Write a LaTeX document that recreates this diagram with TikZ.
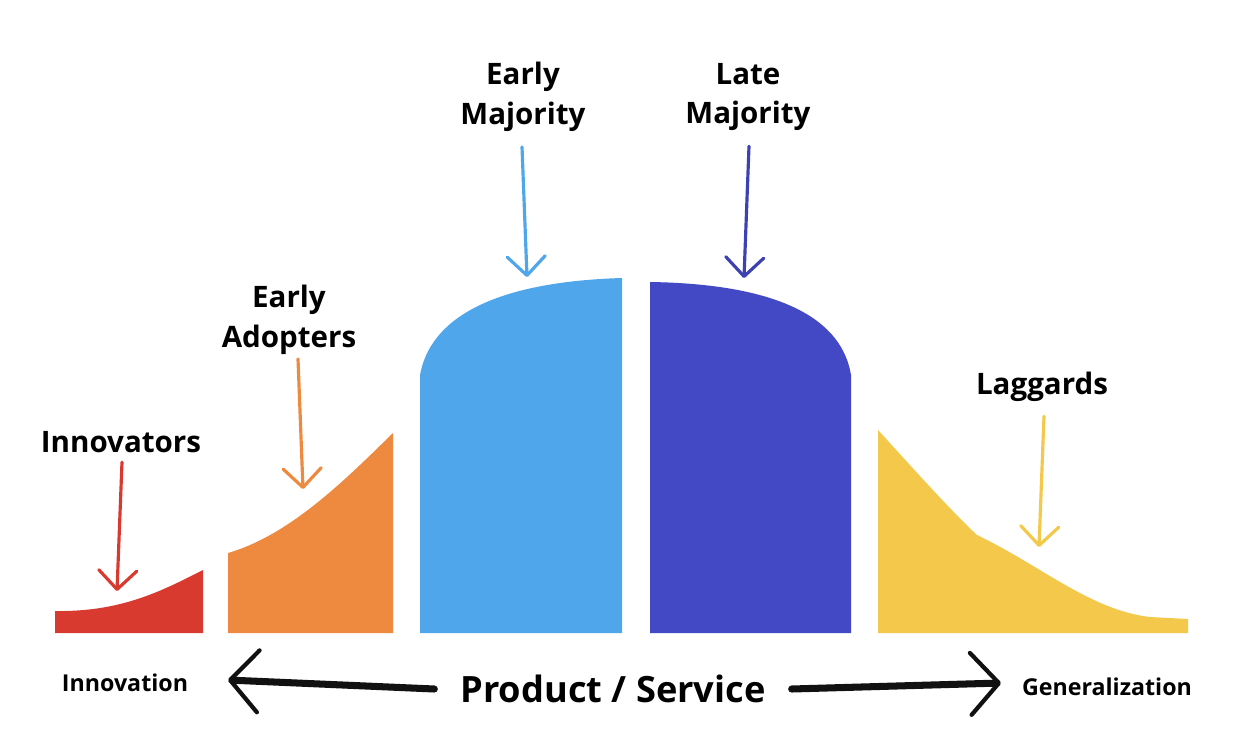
\documentclass[tikz,border=0pt]{standalone}
\usepackage{fontspec}
\setmainfont{Open Sans}
\usetikzlibrary{arrows.meta}
\definecolor{innovred}{HTML}{D83A30}
\definecolor{adoptorange}{HTML}{EE8A3F}
\definecolor{earlyblue}{HTML}{50A6EA}
\definecolor{lateblue}{HTML}{4349C5}
\definecolor{laggyellow}{HTML}{F4C94B}
\definecolor{inkblack}{HTML}{111111}

\begin{document}
\begin{tikzpicture}[x=0.01cm, y=-0.01cm, thick,
  grouplabel/.style={font=\fontsize{8.4}{11.2}\selectfont\bfseries, align=center, inner sep=0pt},
  endlabel/.style={font=\fontsize{6.6}{8}\selectfont\bfseries, inner sep=0pt},
  pointer/.style={line width=0.9pt, line cap=round,
    -{Straight Barb[length=5.4pt, width=10.8pt, round]}},
  bigarrow/.style={draw=inkblack, line width=2pt, line cap=round,
    -{Straight Barb[length=8pt, width=17.6pt, line width=1.2pt, round]}}]
  \fill[white] (0,0) rectangle (1248,730);
  \useasboundingbox (0,0) rectangle (1248,730);

  % the five pieces of the bell curve
  \fill[innovred] (55,633) -- (55,611) .. controls (120,612) and (160,592) .. (203,570) -- (203,633) -- cycle;
  \fill[adoptorange] (228,633) -- (228,553) .. controls (290,535) and (345,480) .. (393,433) -- (393,633) -- cycle;
  \fill[earlyblue] (420,633) -- (420,375) .. controls (430,320) and (490,282) .. (622,278) -- (622,633) -- cycle;
  \fill[lateblue] (650,633) -- (650,282) .. controls (782,284) and (842,320) .. (851,375) -- (851,633) -- cycle;
  \fill[laggyellow] (878,633) -- (878,430) .. controls (910,465) and (950,510) .. (977,535)
    .. controls (1040,565) and (1090,610) .. (1150,617) -- (1188,619) -- (1188,633) -- cycle;

  \node[grouplabel] (innovators) at (121,442) {Innovators};
  \node[grouplabel] (adopters) at (289,320) {Early\\Adopters};
  \node[grouplabel] (earlymaj) at (523,97) {Early\\Majority};
  \node[grouplabel] (latemaj) at (748,97) {Late\\Majority};
  \node[grouplabel] (laggards) at (1042,387) {Laggards};

  \coordinate (innov-tip) at (117,591);
  \coordinate (adopt-tip) at (303,489);
  \coordinate (early-tip) at (527,277);
  \coordinate (late-tip) at (744,278);
  \coordinate (lagg-tip) at (1039,547);

  \draw[pointer, innovred] (innovators.south) ++(1,8) -- (innov-tip);
  \draw[pointer, adoptorange] (adopters.south) ++(9,3) -- (adopt-tip);
  \draw[pointer, earlyblue] (earlymaj.south) ++(-1,14) -- (early-tip);
  \draw[pointer, lateblue!90!black] (latemaj.south) ++(1,14) -- (late-tip);
  \draw[pointer, laggyellow] (laggards.south) ++(2,13) -- (lagg-tip);

  % axis along the bottom
  \node[font=\fontsize{10.3}{12}\selectfont\bfseries, inner xsep=7pt, inner ysep=0pt]
    (product) at (613,689) {Product / Service};
  \node[endlabel] (innovation) at (125,683) {Innovation};
  \node[endlabel] (generalization) at (1107,687) {Generalization};
  \coordinate (left-tip) at (228,680);
  \coordinate (right-tip) at (1001,683);
  \draw[bigarrow] (product.west) -- (left-tip);
  \draw[bigarrow] (product.east) -- (right-tip);
\end{tikzpicture}
\end{document}
